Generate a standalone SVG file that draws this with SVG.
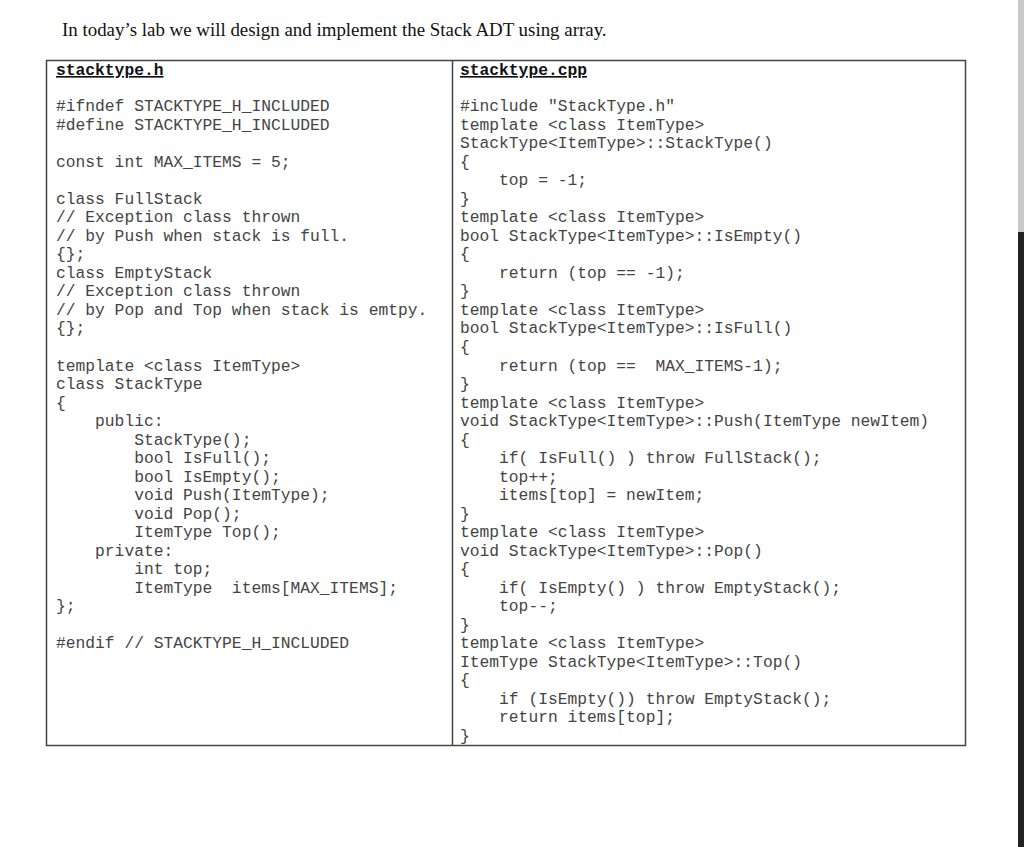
<svg xmlns="http://www.w3.org/2000/svg" width="1024" height="847" viewBox="0 0 1024 847">
<style>
.c{font-family:"Liberation Mono","Courier New",monospace;font-size:16.3px;fill:#444;white-space:pre}
.h{font-family:"Liberation Mono",monospace;font-size:16.3px;font-weight:bold;fill:#111;text-decoration:underline}
.t{font-family:"Liberation Serif","Times New Roman",serif;font-size:18.9px;fill:#111}
</style>
<rect width="1024" height="847" fill="#fff"/>
<rect x="1018" y="0" width="6" height="232" fill="#c8c8c8"/>
<rect x="1018" y="232" width="6" height="615" fill="#222"/>
<text class="t" x="62" y="36">In today’s lab we will design and implement the Stack ADT using array.</text>
<g id="table" fill="none" stroke="#444" stroke-width="1.5">
<rect x="46.5" y="60.5" width="919" height="685"/>
<line x1="452.5" y1="60" x2="452.5" y2="746"/>
</g>
<g id="left">
<text class="h" x="56" y="75">stacktype.h</text>
<text class="c" x="56" y="111">#ifndef STACKTYPE_H_INCLUDED</text>
<text class="c" x="56" y="130">#define STACKTYPE_H_INCLUDED</text>
<text class="c" x="56" y="167">const int MAX_ITEMS = 5;</text>
<text class="c" x="56" y="204">class FullStack</text>
<text class="c" x="56" y="222">// Exception class thrown</text>
<text class="c" x="56" y="241">// by Push when stack is full.</text>
<text class="c" x="56" y="259">{};</text>
<text class="c" x="56" y="278">class EmptyStack</text>
<text class="c" x="56" y="296">// Exception class thrown</text>
<text class="c" x="56" y="315">// by Pop and Top when stack is emtpy.</text>
<text class="c" x="56" y="333">{};</text>
<text class="c" x="56" y="371">template &lt;class ItemType&gt;</text>
<text class="c" x="56" y="389">class StackType</text>
<text class="c" x="56" y="408">{</text>
<text class="c" x="56" y="426">    public:</text>
<text class="c" x="56" y="445">        StackType();</text>
<text class="c" x="56" y="463">        bool IsFull();</text>
<text class="c" x="56" y="482">        bool IsEmpty();</text>
<text class="c" x="56" y="500">        void Push(ItemType);</text>
<text class="c" x="56" y="519">        void Pop();</text>
<text class="c" x="56" y="537">        ItemType Top();</text>
<text class="c" x="56" y="556">    private:</text>
<text class="c" x="56" y="574">        int top;</text>
<text class="c" x="56" y="593">        ItemType  items[MAX_ITEMS];</text>
<text class="c" x="56" y="611">};</text>
<text class="c" x="56" y="648">#endif // STACKTYPE_H_INCLUDED</text>
</g>
<g id="right">
<text class="h" x="460" y="75">stacktype.cpp</text>
<text class="c" x="460" y="111">#include "StackType.h"</text>
<text class="c" x="460" y="130">template &lt;class ItemType&gt;</text>
<text class="c" x="460" y="148">StackType&lt;ItemType&gt;::StackType()</text>
<text class="c" x="460" y="167">{</text>
<text class="c" x="460" y="185">    top = -1;</text>
<text class="c" x="460" y="204">}</text>
<text class="c" x="460" y="222">template &lt;class ItemType&gt;</text>
<text class="c" x="460" y="241">bool StackType&lt;ItemType&gt;::IsEmpty()</text>
<text class="c" x="460" y="259">{</text>
<text class="c" x="460" y="278">    return (top == -1);</text>
<text class="c" x="460" y="296">}</text>
<text class="c" x="460" y="315">template &lt;class ItemType&gt;</text>
<text class="c" x="460" y="333">bool StackType&lt;ItemType&gt;::IsFull()</text>
<text class="c" x="460" y="352">{</text>
<text class="c" x="460" y="371">    return (top ==  MAX_ITEMS-1);</text>
<text class="c" x="460" y="389">}</text>
<text class="c" x="460" y="408">template &lt;class ItemType&gt;</text>
<text class="c" x="460" y="426">void StackType&lt;ItemType&gt;::Push(ItemType newItem)</text>
<text class="c" x="460" y="445">{</text>
<text class="c" x="460" y="463">    if( IsFull() ) throw FullStack();</text>
<text class="c" x="460" y="482">    top++;</text>
<text class="c" x="460" y="500">    items[top] = newItem;</text>
<text class="c" x="460" y="519">}</text>
<text class="c" x="460" y="537">template &lt;class ItemType&gt;</text>
<text class="c" x="460" y="556">void StackType&lt;ItemType&gt;::Pop()</text>
<text class="c" x="460" y="574">{</text>
<text class="c" x="460" y="593">    if( IsEmpty() ) throw EmptyStack();</text>
<text class="c" x="460" y="611">    top--;</text>
<text class="c" x="460" y="630">}</text>
<text class="c" x="460" y="648">template &lt;class ItemType&gt;</text>
<text class="c" x="460" y="667">ItemType StackType&lt;ItemType&gt;::Top()</text>
<text class="c" x="460" y="685">{</text>
<text class="c" x="460" y="704">    if (IsEmpty()) throw EmptyStack();</text>
<text class="c" x="460" y="722">    return items[top];</text>
<text class="c" x="460" y="741">}</text>
</g>
</svg>
